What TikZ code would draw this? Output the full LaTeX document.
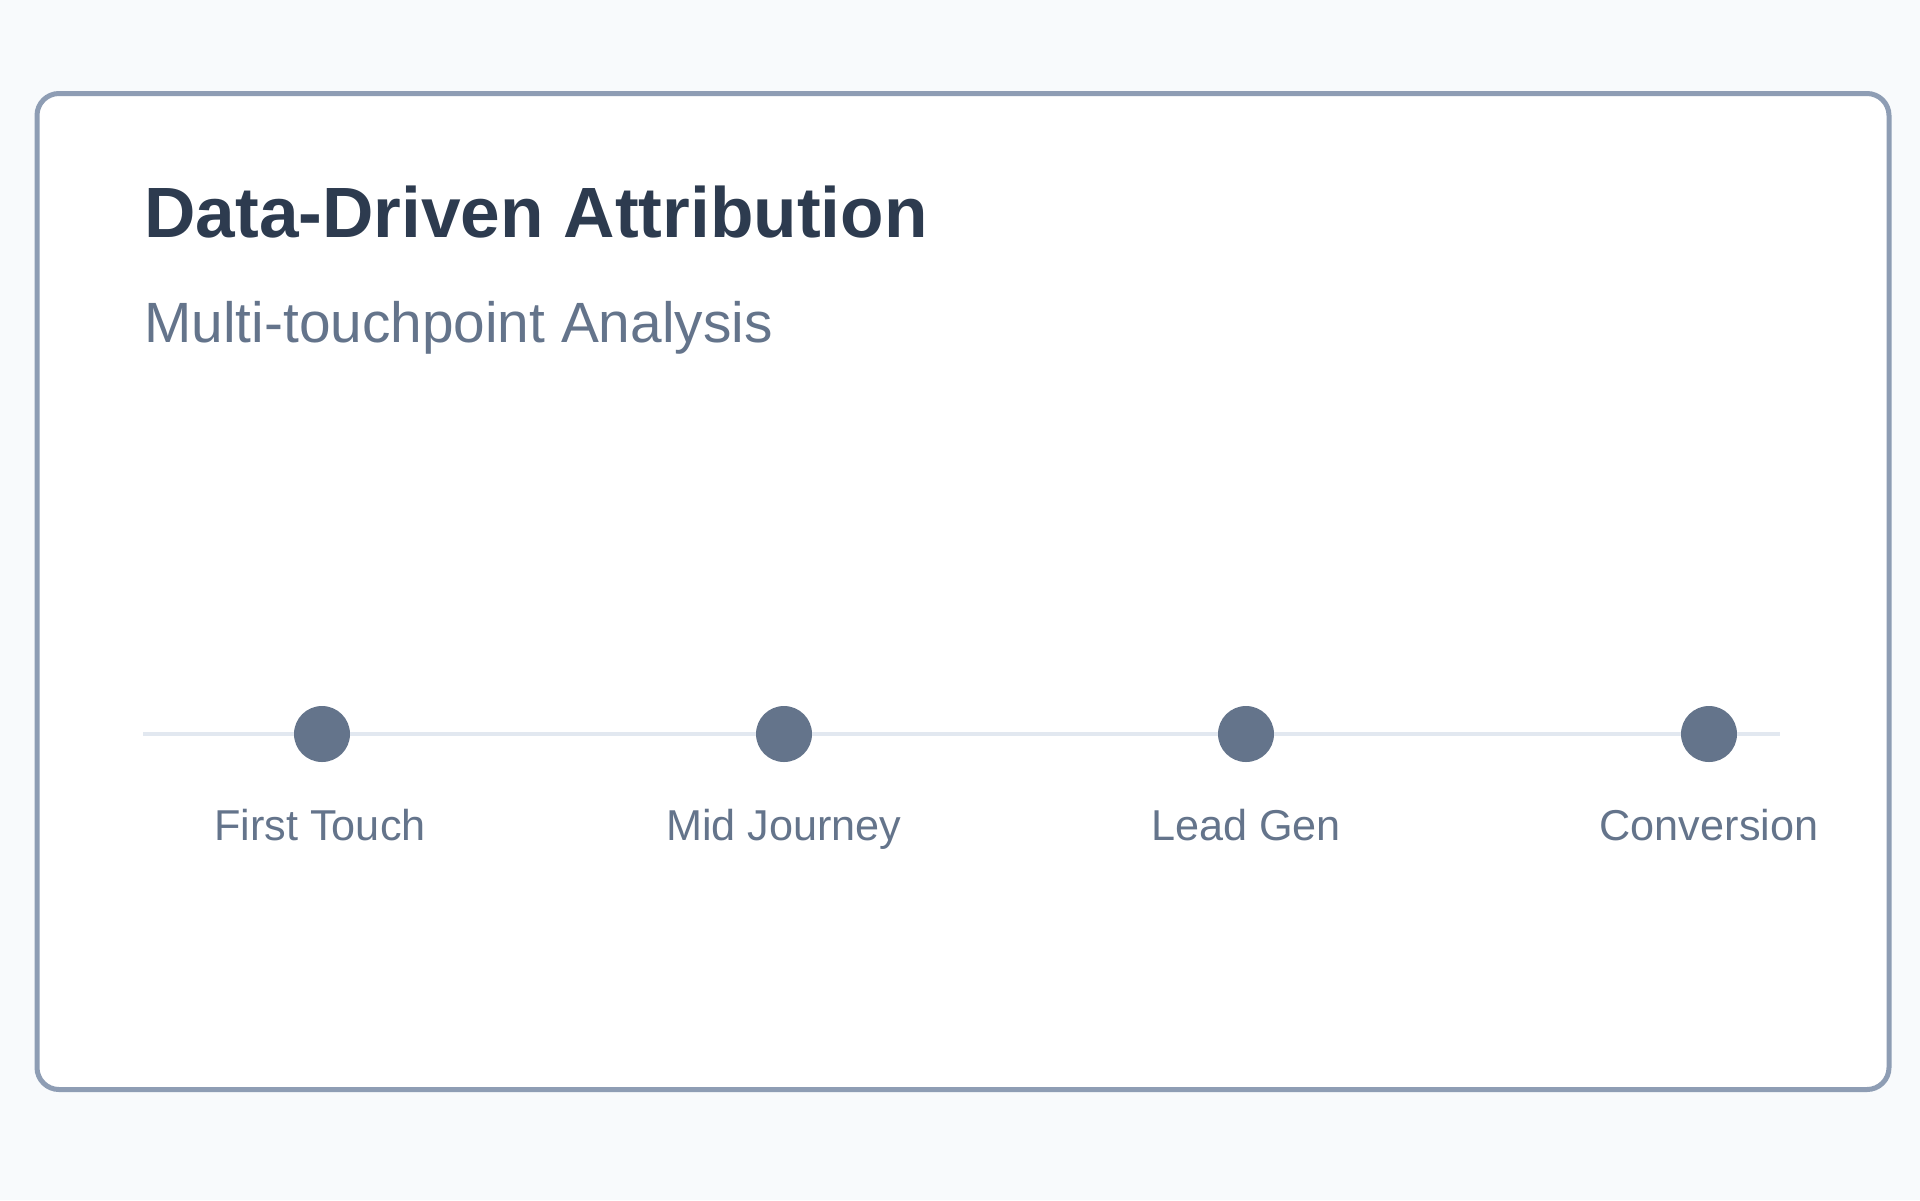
\documentclass[tikz,border=0pt]{standalone}
\usepackage{fontspec}
\setmainfont{Liberation Sans}
\definecolor{bgc}{HTML}{F8FAFC}
\definecolor{cardedge}{HTML}{8E9DB4}
\definecolor{titlec}{HTML}{2D3B4F}
\definecolor{subc}{HTML}{64748B}
\definecolor{dotc}{HTML}{64748B}
\definecolor{linec}{HTML}{E2E8F0}
\tikzset{
  dotnode/.style={circle, fill=dotc, draw=none, minimum size=28pt, inner sep=0pt},
  lbl/.style={anchor=base, text=subc, font=\fontsize{21.6pt}{26pt}\selectfont, inner sep=0pt},
  track/.style={draw=linec, line width=2pt},
}
\begin{document}
\begin{tikzpicture}[x=0.5pt,y=-0.5pt]
\fill[bgc] (0,0) rectangle (1920,1200);
\useasboundingbox (0,0) rectangle (1920,1200);
\node[draw=cardedge, fill=white, line width=2.5pt, rounded corners=11pt, minimum width=926pt, minimum height=498pt, inner sep=0pt] (card) at (963,591.5) {};
\node[anchor=base west, inner sep=0pt, text=titlec, font=\fontsize{35.6pt}{42pt}\selectfont\bfseries] (title) at (144,237) {Data-Driven Attribution};
\node[anchor=base west, inner sep=0pt, text=subc, font=\fontsize{28.4pt}{34pt}\selectfont] (sub) at (144,342) {Multi-touchpoint Analysis};
\coordinate (ls) at (143,734);
\coordinate (le) at (1780,734);
\node[dotnode] (d1) at (322,734) {};
\node[dotnode] (d2) at (784,734) {};
\node[dotnode] (d3) at (1246,734) {};
\node[dotnode] (d4) at (1709,734) {};
\draw[track] (ls) -- (d1) -- (d2) -- (d3) -- (d4) -- (le);
\node[lbl] (l1) at (320,840) {First Touch};
\node[lbl] (l2) at (784,840) {Mid Journey};
\node[lbl] (l3) at (1246,840) {Lead Gen};
\node[lbl] (l4) at (1709,840) {Conversion};
\end{tikzpicture}
\end{document}
